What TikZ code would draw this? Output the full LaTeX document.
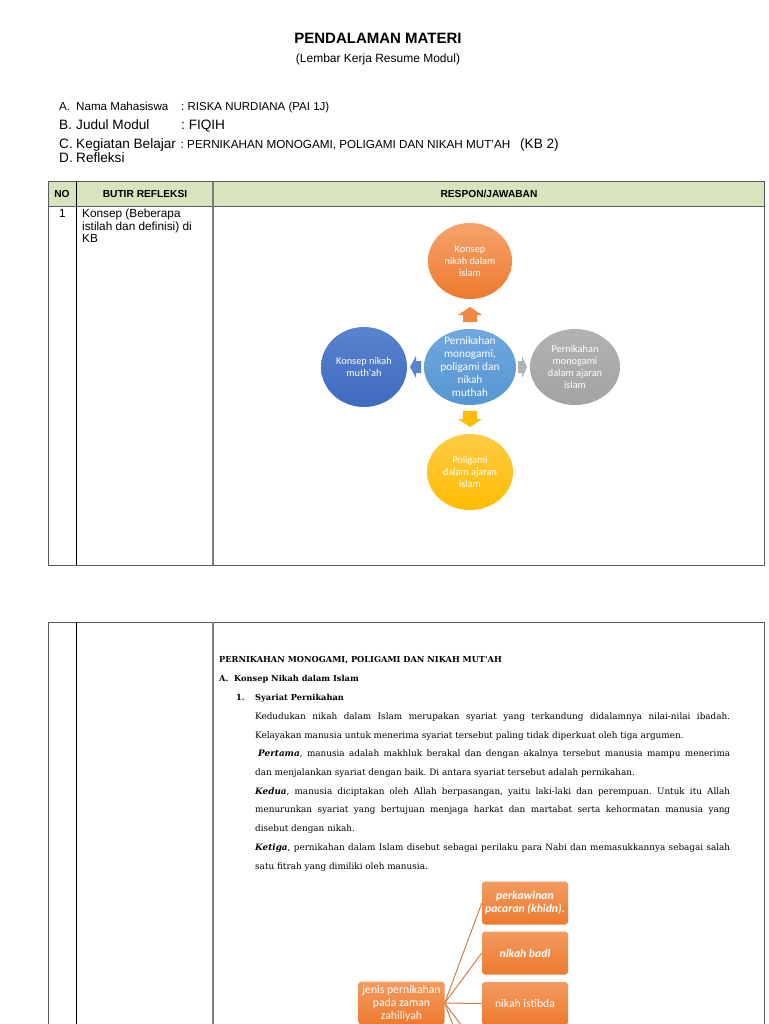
\documentclass[tikz,border=0pt]{standalone}
\usepackage{fontspec}
\setmainfont{Liberation Sans}
\newfontfamily\bodyserif{DejaVu Serif}
\newfontfamily\artfont{Carlito}
\usetikzlibrary{positioning,shapes.geometric}
\frenchspacing
\definecolor{TableLine}{HTML}{5A5A5A}
\definecolor{HeadGreen}{HTML}{D7E4BD}
\definecolor{ArtOrange}{HTML}{EE7A2E}
\definecolor{ArtOrangeLight}{HTML}{F4A36C}
\definecolor{ArtSky}{HTML}{5796D3}
\definecolor{ArtSkyLight}{HTML}{6EA8DE}
\definecolor{ArtBlue}{HTML}{3F6BC0}
\definecolor{ArtBlueLight}{HTML}{5A83CE}
\definecolor{ArtGray}{HTML}{A3A3A3}
\definecolor{ArtGrayLight}{HTML}{B2B2B2}
\definecolor{ArtGold}{HTML}{FFBC00}
\definecolor{ArtGoldLight}{HTML}{FFCC45}
\definecolor{TreeLine}{HTML}{CF7F48}

\begin{document}
\begin{tikzpicture}[x=1pt,y=-1pt,
  infotext/.style={anchor=base west,inner sep=0pt,font=\fontsize{#1}{#1}\selectfont},
  headcell/.style={inner sep=0pt,font=\bfseries\fontsize{10.2}{11}\selectfont},
  celltext/.style={anchor=base west,inner sep=0pt,font=\fontsize{11.8}{12}\selectfont},
  bubble/.style={ellipse,minimum width=#1,minimum height=76pt,inner sep=0pt},
  bubbletext/.style={align=center,text=white,inner sep=0pt,font=\artfont\fontsize{10.3}{12}\selectfont},
  bodytext/.style={anchor=base west,inner sep=0pt,font=\bodyserif\fontsize{8.85}{10}\selectfont},
  bodyhead/.style={bodytext,font=\bodyserif\bfseries\fontsize{8.25}{10}\selectfont},
  leafbox/.style={rectangle,rounded corners=3pt,minimum width=86pt,minimum height=43pt,
    inner sep=1pt,align=center,text=white,top color=ArtOrangeLight!80!ArtOrange,bottom color=ArtOrange,
    font=\artfont\fontsize{11.7}{13}\selectfont},
  treeline/.style={TreeLine,line width=1pt}]
  \useasboundingbox (0,0) rectangle (768,1024);
  \clip (0,0) rectangle (768,1024);
  \fill[white] (0,0) rectangle (768,1024);

  % heading
  \node[font=\bfseries\fontsize{15}{18}\selectfont] (title) at (378,38) {PENDALAMAN MATERI};
  \node[font=\fontsize{12}{14}\selectfont,below=4pt of title] (subtitle) {(Lembar Kerja Resume Modul)};

  \node[infotext=11.6] (la) at (59,111) {A.};
  \node[infotext=11.6] (nama) at (76,111) {Nama Mahasiswa};
  \node[infotext=11.5] (namaval) at (181,111) {: RISKA NURDIANA (PAI 1J)};
  \node[infotext=13.6] (lb) at (59,130) {B.};
  \node[infotext=13.6] (judul) at (76,130) {Judul Modul};
  \node[infotext=13.6] (judulval) at (181,130) {: FIQIH};
  \node[infotext=13.6] (lc) at (59,149) {C.};
  \node[infotext=13.6] (kegiatan) at (76,149) {Kegiatan Belajar};
  \node[infotext=11.7] (kegiatanval) at (180.5,149) {: PERNIKAHAN MONOGAMI, POLIGAMI DAN NIKAH MUT'AH};
  \node[infotext=13.6] (kb) at (520,149) {(KB 2)};
  \node[infotext=13.6] (ld) at (59,163) {D.};
  \node[infotext=13.6] (refleksi) at (76,163) {Refleksi};

  % table one
  \fill[HeadGreen] (48,182) rectangle (764,207);
  \draw[TableLine,line width=1pt] (48,182) rectangle (764,565);
  \draw[TableLine,line width=1pt] (48,207) -- (764,207);
  \draw[black,line width=.8pt] (76,182) -- (76,565);
  \draw[TableLine!80,line width=1.6pt] (213,182) -- (213,565);
  \node[headcell] (hno) at (62,194) {NO};
  \node[headcell] (hbutir) at (145,194) {BUTIR REFLEKSI};
  \node[headcell] (hrespon) at (489,194) {RESPON/JAWABAN};
  \node[celltext] (rowno) at (59,218) {1};
  \node[celltext] (rowa) at (82,218) {Konsep (Beberapa};
  \node[celltext] (rowb) at (82,230.5) {istilah dan definisi) di};
  \node[celltext] (rowc) at (82,243) {KB};

  % circle diagram
  \node[bubble=84pt,top color=ArtOrangeLight,bottom color=ArtOrange] (konsep) at (470,261) {};
  \node[bubble=92pt,top color=ArtSkyLight,bottom color=ArtSky] (pusat) at (470,367) {};
  \node[bubble=86pt,top color=ArtBlueLight,bottom color=ArtBlue,minimum height=80pt] (mutah) at (364,367) {};
  \node[bubble=90pt,top color=ArtGrayLight,bottom color=ArtGray] (monogami) at (575,367) {};
  \node[bubble=86pt,top color=ArtGoldLight,bottom color=ArtGold] (poligami) at (470,472) {};
  \node[bubbletext] at (konsep.center) {Konsep\\nikah dalam\\islam};
  \node[bubbletext,font=\artfont\fontsize{11.3}{13}\selectfont] at (pusat.center) {Pernikahan\\monogami,\\poligami dan\\nikah\\muthah};
  \node[bubbletext] at (mutah.center) {Konsep nikah\\muth'ah};
  \node[bubbletext] at (monogami.center) {Pernikahan\\monogami\\dalam ajaran\\islam};
  \node[bubbletext] at (poligami.center) {Poligami\\dalam ajaran\\islam};

  \fill[ArtOrange!90] (470,307) -- (482,315) -- (477,315) -- (477,322) -- (463,322) -- (463,315) -- (458,315) -- cycle;
  \fill[ArtGold] (463,411) -- (477,411) -- (477,419) -- (482,419) -- (470,427) -- (458,419) -- (463,419) -- cycle;
  \fill[ArtBlueLight] (410,367) -- (416,356) -- (416,361) -- (421,361) -- (421,373) -- (416,373) -- (416,378) -- cycle;
  \fill[ArtGrayLight] (527,367) -- (522,356) -- (522,361) -- (518,361) -- (518,373) -- (522,373) -- (522,378) -- cycle;

  % table two
  \draw[TableLine,line width=1pt] (48,1030) -- (48,622) -- (764,622) -- (764,1030);
  \draw[black,line width=.8pt] (76,622) -- (76,1030);
  \draw[TableLine!80,line width=1.6pt] (213,622) -- (213,1030);

  \node[bodyhead] (judulkb) at (219,662) {PERNIKAHAN MONOGAMI, POLIGAMI DAN NIKAH MUT'AH};
  \node[bodyhead] (secA) at (219,681) {A.};
  \node[bodyhead] (secAtext) at (234,681) {Konsep Nikah dalam Islam};
  \node[bodyhead] (sub1) at (236,700) {1.};
  \node[bodyhead] (sub1text) at (255,700) {Syariat Pernikahan};
  \node[bodytext] (par1) at (255,719) {\makebox[475pt][s]{Kedudukan nikah dalam Islam merupakan syariat yang terkandung didalamnya nilai-nilai ibadah.}};
  \node[bodytext] (par2) at (255,738) {Kelayakan manusia untuk menerima syariat tersebut paling tidak diperkuat oleh tiga argumen.};
  \node[bodytext] (par3) at (258,756) {\makebox[472pt][s]{{\bfseries\itshape Pertama}, manusia adalah makhluk berakal dan dengan akalnya tersebut manusia mampu menerima}};
  \node[bodytext] (par4) at (255,775) {dan menjalankan syariat dengan baik. Di antara syariat tersebut adalah pernikahan.};
  \node[bodytext] (par5) at (255,794) {\makebox[475pt][s]{{\bfseries\itshape Kedua}, manusia diciptakan oleh Allah berpasangan, yaitu laki-laki dan perempuan. Untuk itu Allah}};
  \node[bodytext] (par6) at (255,812) {\makebox[475pt][s]{menurunkan syariat yang bertujuan menjaga harkat dan martabat serta kehormatan manusia yang}};
  \node[bodytext] (par7) at (255,831) {disebut dengan nikah.};
  \node[bodytext] (par8) at (255,850) {\makebox[475pt][s]{{\bfseries\itshape Ketiga}, pernikahan dalam Islam disebut sebagai perilaku para Nabi dan memasukkannya sebagai salah}};
  \node[bodytext] (par9) at (255,869) {satu fitrah yang dimiliki oleh manusia.};

  % jenis pernikahan tree
  \node[leafbox] (jenis) at (401.5,1003) {jenis pernikahan\\pada zaman\\zahiliyah};
  \node[leafbox,font=\artfont\bfseries\itshape\fontsize{11.7}{13}\selectfont] (khidn) at (525,903) {perkawinan\\pacaran (khidn).};
  \node[leafbox,font=\artfont\bfseries\itshape\fontsize{11.7}{13}\selectfont] (badl) at (525,953) {nikah badl};
  \node[leafbox] (istibda) at (525,1003.5) {nikah istibda};
  \coordinate (nextleaf) at (482,1053);
  \coordinate (lastleaf) at (482,1103);
  \draw[treeline] (jenis.east) -- (khidn.west);
  \draw[treeline] (jenis.east) -- (badl.west);
  \draw[treeline] (jenis.east) -- (istibda.west);
  \draw[treeline] (jenis.east) -- (nextleaf);
  \draw[treeline] (jenis.east) -- (lastleaf);
\end{tikzpicture}
\end{document}
